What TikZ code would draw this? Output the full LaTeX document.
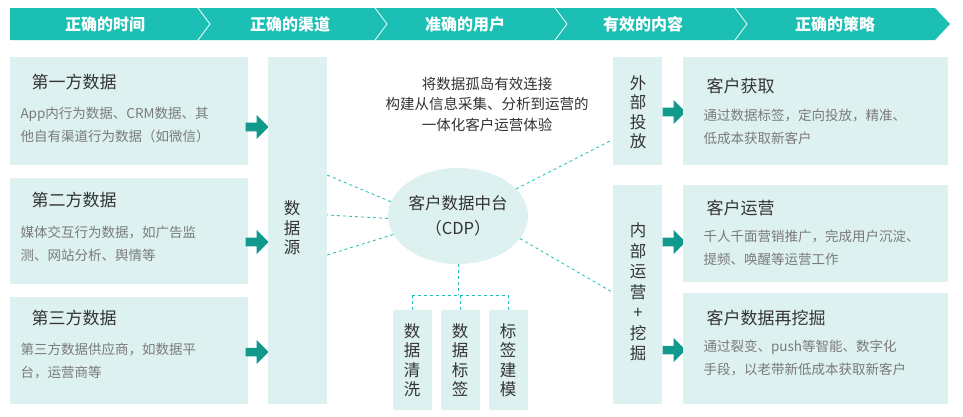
\documentclass[tikz,border=0pt]{standalone}
\usepackage{fontspec}
\setmainfont{Noto Sans CJK SC}
\usetikzlibrary{shapes.arrows,shapes.geometric}
\definecolor{teal1}{HTML}{1BBFB4}
\definecolor{arr}{HTML}{12998E}
\definecolor{boxc}{HTML}{DDF1F1}
\definecolor{tt}{HTML}{333333}
\definecolor{dg}{HTML}{7A7A7A}
\begin{document}
\begin{tikzpicture}[x=1pt,y=-1pt,
 box/.style={fill=boxc,draw=none},
 ttl/.style={anchor=west,font=\fontsize{17}{19}\selectfont,text=tt},
 dsc/.style={anchor=north west,align=left,font=\fontsize{13.5}{23}\selectfont,text=dg},
 vtx/.style={align=center,font=\fontsize{16.5}{19.5}\selectfont,text=tt},
 harr/.style={single arrow,fill=arr,draw=none,minimum height=23pt,minimum width=24pt,single arrow head extend=4pt,inner sep=2pt},
 dl/.style={draw=teal1,dashed,line width=0.8pt},
 ban/.style={text=white,font=\fontsize{16}{18}\selectfont\bfseries}]
\useasboundingbox (0,0) rectangle (963,416);
\fill[white] (0,0) rectangle (963,416);
% banner
\fill[teal1] (10,8) -- (935,8) -- (950,24) -- (935,40) -- (10,40) -- cycle;
\foreach \x in {198,375,555,735}{\draw[white,line width=0.8pt] (\x,8) -- (\x+12,24) -- (\x,40);}
\node[ban] (b1) at (105,24) {正确的时间};
\node[ban] (b2) at (290,24) {正确的渠道};
\node[ban] (b3) at (465,24) {准确的用户};
\node[ban] (b4) at (643,24) {有效的内容};
\node[ban] (b5) at (835,24) {正确的策略};
% left boxes
\fill[box] (10,57) rectangle (248,165);
\fill[box] (10,178) rectangle (248,284);
\fill[box] (10,297) rectangle (248,404);
\node[ttl] (t1) at (28,82) {第一方数据};
\node[dsc] (d1) at (17,104) {App内行为数据、CRM数据、其\\他自有渠道行为数据（如微信）};
\node[ttl] (t2) at (28,200) {第二方数据};
\node[dsc] (d2) at (17,222) {媒体交互行为数据，如广告监\\测、网站分析、舆情等};
\node[ttl] (t3) at (28,318) {第三方数据};
\node[dsc] (d3) at (17,340) {第三方数据供应商，如数据平\\台，运营商等};
\node[harr] (a1) at (255,127) {};
\node[harr] (a2) at (255,242) {};
\node[harr] (a3) at (255,352) {};
% source
\fill[box] (268,57) rectangle (327,404);
\node[vtx] (src) at (292,228) {数\\据\\源};
% center
\node[align=center,font=\fontsize{14.5}{20.5}\selectfont,text=tt] (top) at (487,104) {将数据孤岛有效连接\\构建从信息采集、分析到运营的\\一体化客户运营体验};
\node[ellipse,fill=boxc,minimum width=140pt,minimum height=96pt,align=center,font=\fontsize{16.5}{25}\selectfont,text=tt,inner sep=0pt] (cdp) at (458,216) {客户数据中台\\（CDP）};
\coordinate (s1) at (327,175);
\coordinate (s2) at (327,215);
\coordinate (s3) at (327,255);
\draw[dl] (cdp.168) -- (s1);
\draw[dl] (cdp.182) -- (s2);
\draw[dl] (cdp.196) -- (s3);
% bottom
\fill[box] (393,310) rectangle (432,410);
\fill[box] (441,310) rectangle (480,410);
\fill[box] (489,310) rectangle (528,410);
\node[vtx] (v1) at (412,360) {数\\据\\清\\洗};
\node[vtx] (v2) at (460,360) {数\\据\\标\\签};
\node[vtx] (v3) at (508,360) {标\\签\\建\\模};
\coordinate (j) at (458,295);
\draw[dl] (cdp.south) -- (j);
\draw[dl] (412,295) -- (508,295);
\draw[dl] (412,295) -- (412,310);
\draw[dl] (460,295) -- (460,310);
\draw[dl] (508,295) -- (508,310);
% right
\fill[box] (613,57) rectangle (662,165);
\fill[box] (613,185) rectangle (662,404);
\node[vtx] (ext) at (638,112) {外\\部\\投\\放};
\node[vtx,font=\fontsize{16.5}{20.5}\selectfont] (int) at (638,292) {内\\部\\运\\营\\+\\挖\\掘};
\coordinate (r1) at (612,140);
\coordinate (r2) at (612,292);
\draw[dl] (cdp.25) -- (r1);
\draw[dl] (cdp.-20) -- (r2);
\node[harr] (a4) at (672,112) {};
\node[harr] (a5) at (672,242) {};
\node[harr] (a6) at (672,350) {};
\fill[box] (683,57) rectangle (948,165);
\fill[box] (683,185) rectangle (948,282);
\fill[box] (683,293) rectangle (948,404);
\node[ttl] (rt1) at (703,86) {客户获取};
\node[dsc] (rd1) at (700,106) {通过数据标签，定向投放，精准、\\低成本获取新客户};
\node[ttl] (rt2) at (703,208) {客户运营};
\node[dsc] (rd2) at (700,226) {千人千面营销推广，完成用户沉淀、\\提频、唤醒等运营工作};
\node[ttl] (rt3) at (703,318) {客户数据再挖掘};
\node[dsc] (rd3) at (700,336) {通过裂变、push等智能、数字化\\手段，以老带新低成本获取新客户};
\end{tikzpicture}
\end{document}
